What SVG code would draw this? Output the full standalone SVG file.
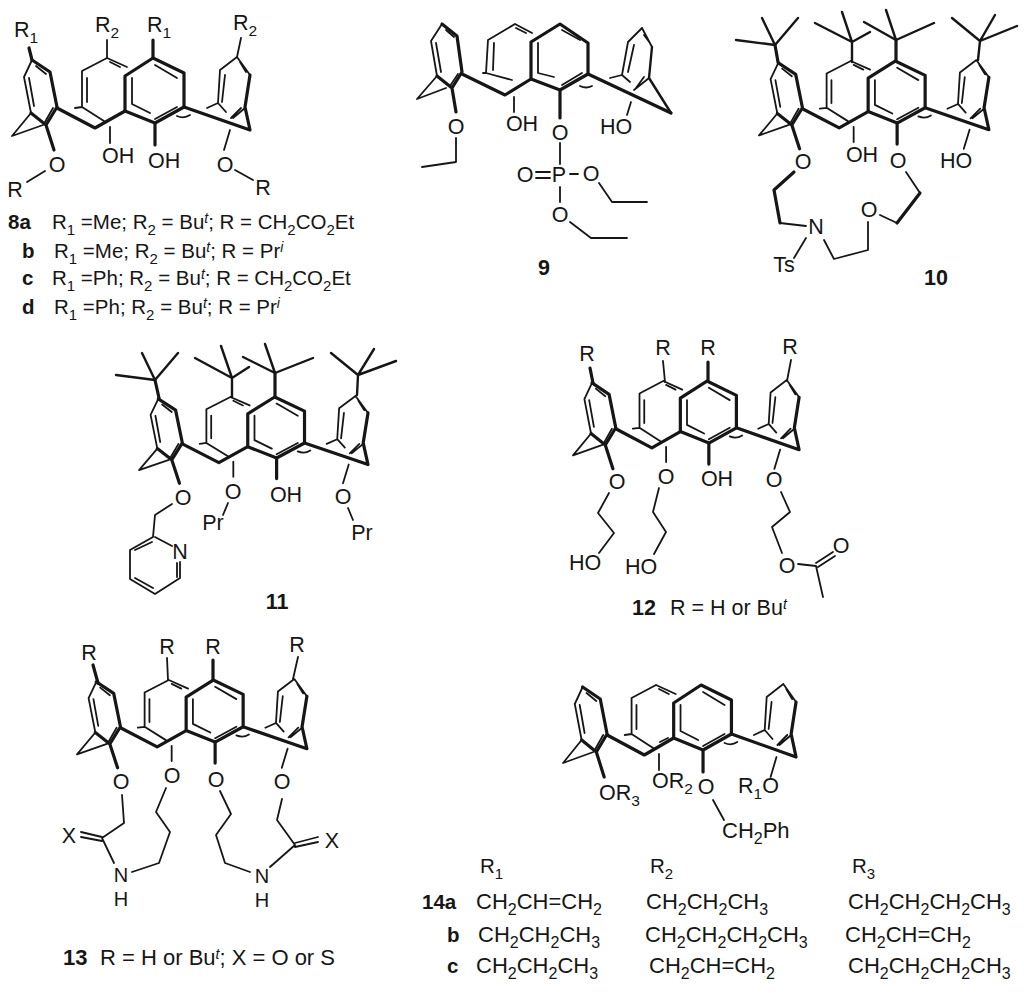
<svg xmlns="http://www.w3.org/2000/svg" width="1024" height="993" viewBox="0 0 1024 993">
<style>
text{font-family:"Liberation Sans",Arial,sans-serif;font-size:21.5px;fill:#161616}
.m{text-anchor:middle}
.bl{font-weight:bold}
.s{font-size:15.5px}
.i{font-style:italic;font-size:14px}
.lab{font-size:20.5px}
.lab .s{font-size:15px}
.tab{font-size:22px}
.tab .s{font-size:16px}
.nh{font-size:20px}
.t,.k,.x{fill:none;stroke:#161616;stroke-linejoin:round;stroke-linecap:round;vector-effect:non-scaling-stroke}
.t{stroke-width:1.8}
.k{stroke-width:3.2}
.x{stroke-width:2.4}
</style>
<defs>
<g id="core">
<path class="t" d="M32 60L24 77L31 113L12 136L43 125M29 78L34 106M36 66L46 74M53 108L45 122"/>
<path class="k" d="M32 60L50 72L57 107L46 125L54 150M31 113L46 125"/>
<path class="k" d="M57 108L95 128L125 111"/>
<path class="t" d="M107 58L82 71L82 107L75 108M82 107L104 121M107 58L127 67M87 78L87 102M110 62L120 67M110 127L110 143"/>
<path class="k" d="M153 58L184 73L184 107L155 123L125 111L125 76Z"/>
<path class="k" d="M155 123L155 145"/>
<path class="t" d="M132 78L132 104L150 113M155 65L177 78M177 107L155 119M177 116Q184 119 190 115"/>
<path class="k" d="M184 107L250 130L245 107L250 75"/>
<path class="t" d="M237 57L250 75M237 57L220 70L218 103L207 108M218 103L226 112M225 75L222 102M240 62L246 72M241 108L231 118M245 108L233 118M230 130L224 150"/>
</g>
</defs>

<g id="compound-8">
<use href="#core"/>
<path class="k" d="M32 60L29 48M153 58L153 40"/>
<path class="t" d="M107 58L107 40M237 57L241 38M45 171L27 182M235 170L253 180"/>
<text x="14" y="37">R<tspan class="s" dy="6">1</tspan></text>
<text x="95" y="32">R<tspan class="s" dy="6">2</tspan></text>
<text x="147" y="32">R<tspan class="s" dy="6">1</tspan></text>
<text x="233" y="30">R<tspan class="s" dy="6">2</tspan></text>
<text x="57" y="172" class="m">O</text>
<text x="15" y="197" class="m">R</text>
<text x="102" y="163">OH</text>
<text x="148" y="168">OH</text>
<text x="225" y="172" class="m">O</text>
<text x="263" y="195" class="m">R</text>
<text x="8" y="229" class="bl lab">8a</text>
<text x="52" y="229" class="lab">R<tspan class="s" dy="6">1</tspan><tspan dy="-6"> =Me; R</tspan><tspan class="s" dy="6">2</tspan><tspan dy="-6"> = Bu</tspan><tspan class="i" dy="-6">t</tspan><tspan dy="6">; R = CH</tspan><tspan class="s" dy="6">2</tspan><tspan dy="-6">CO</tspan><tspan class="s" dy="6">2</tspan><tspan dy="-6">Et</tspan></text>
<text x="22" y="258" class="bl lab">b</text>
<text x="54" y="258" class="lab">R<tspan class="s" dy="6">1</tspan><tspan dy="-6"> =Me; R</tspan><tspan class="s" dy="6">2</tspan><tspan dy="-6"> = Bu</tspan><tspan class="i" dy="-6">t</tspan><tspan dy="6">; R = Pr</tspan><tspan class="i" dy="-6">i</tspan></text>
<text x="22" y="285" class="bl lab">c</text>
<text x="52" y="285" class="lab">R<tspan class="s" dy="6">1</tspan><tspan dy="-6"> =Ph; R</tspan><tspan class="s" dy="6">2</tspan><tspan dy="-6"> = Bu</tspan><tspan class="i" dy="-6">t</tspan><tspan dy="6">; R = CH</tspan><tspan class="s" dy="6">2</tspan><tspan dy="-6">CO</tspan><tspan class="s" dy="6">2</tspan><tspan dy="-6">Et</tspan></text>
<text x="22" y="314" class="bl lab">d</text>
<text x="54" y="314" class="lab">R<tspan class="s" dy="6">1</tspan><tspan dy="-6"> =Ph; R</tspan><tspan class="s" dy="6">2</tspan><tspan dy="-6"> = Bu</tspan><tspan class="i" dy="-6">t</tspan><tspan dy="6">; R = Pr</tspan><tspan class="i" dy="-6">i</tspan></text>
</g>

<g id="compound-9">
<path class="t" d="M442 24L431 41L437 76L417 99L446 88M436 43L441 72M446 30L454 37M458 74L450 86"/>
<path class="k" d="M442 24L457 36L462 72L452 88L456 112M437 76L452 88"/>
<path class="k" d="M462 74L505 95L531 79"/>
<path class="t" d="M515 24L488 40L486 73L483 73M486 73L512 80M515 24L532 33M494 43L493 70M516 28L526 33M514 97L514 112"/>
<path class="k" d="M560 24L588 43L588 74L560 90L531 79L531 42Z"/>
<path class="k" d="M560 90L560 118"/>
<path class="t" d="M538 43L538 73L554 77M562 30L580 40M582 73L562 85M580 86Q586 89 592 86"/>
<path class="k" d="M588 74L671 113"/>
<path class="x" d="M671 113L649 78L652 47"/>
<path class="t" d="M642 28L652 47M642 28L628 42L622 75L610 78M622 75L630 82M634 45L628 72M644 35L650 43M644 77L636 88M649 78L634 90M631 102L627 115"/>
<path class="t" d="M456 138L456 162L422 167M560 143L560 164M536 172L550 172M536 178L550 178M570 174L578 174M599 183L612 202L647 202M560 187L560 202M570 222L591 238L627 238"/>
<text x="456" y="134" class="m">O</text>
<text x="522" y="131" class="m">OH</text>
<text x="560" y="140" class="m">O</text>
<text x="616" y="134" class="m">HO</text>
<text x="525" y="182" class="m">O</text>
<text x="559" y="182" class="m">P</text>
<text x="591" y="181" class="m">O</text>
<text x="560" y="222" class="m">O</text>
<text x="544" y="275" class="m bl">9</text>
</g>

<g id="compound-10">
<use href="#core" transform="translate(747.4 5.7) scale(.966 .954)"/>
<path class="k" d="M775 45L778 62M896 40L896 61"/>
<path class="x" d="M775 45L762 18M775 45L798 18M775 45L736 40M852 42L815 23M852 42L842 12M852 42L870 32M852 42L852 62M896 40L864 22M896 40L886 10M896 40L934 23M980 41L952 18M980 41L995 15M980 41L1017 26M980 41L978 60"/>
<path class="k" d="M794 172L774 190L780 223"/>
<path class="t" d="M780 223L806 226M806 238L794 258M824 240L834 259L868 250L868 222M880 215L897 223"/>
<path class="k" d="M897 223L920 193"/>
<path class="t" d="M920 193L906 172"/>
<text x="803" y="169" class="m">O</text>
<text x="862" y="162" class="m">OH</text>
<text x="898" y="168" class="m">O</text>
<text x="956" y="168" class="m">HO</text>
<text x="816" y="234" class="m">N</text>
<text x="784" y="272" class="m">Ts</text>
<text x="869" y="217" class="m">O</text>
<text x="936" y="285" class="m bl">10</text>
</g>

<g id="compound-11">
<use href="#core" transform="translate(127.5 342.6) scale(.962 .938)"/>
<path class="k" d="M155 380L159 398M275 373L275 397"/>
<path class="x" d="M155 380L142 353M155 380L178 353M155 380L116 375M232 378L195 358M232 378L221 346M232 378L249 367M232 378L232 397M275 373L243 357M275 373L265 344M275 373L313 358M358 375L331 353M358 375L374 349M358 375L396 361M358 375L357 395"/>
<path class="t" d="M172 504L155 515L153 537L130 550L130 579L155 594L180 578L180 562M155 537L172 546M135 550L152 542M177 563L177 577M135 578L153 588M228 503L223 515M348 508L353 520"/>
<text x="183" y="505" class="m">O</text>
<text x="233" y="499" class="m">O</text>
<text x="213" y="530" class="m">Pr</text>
<text x="286" y="502" class="m">OH</text>
<text x="343" y="504" class="m">O</text>
<text x="362" y="540" class="m">Pr</text>
<text x="180" y="559" class="m">N</text>
<text x="277" y="609" class="m bl">11</text>
</g>

<g id="compound-12">
<use href="#core" transform="translate(561.6 325.7) scale(.95 .954)"/>
<path class="k" d="M593 383L590 368M708 381L708 362"/>
<path class="t" d="M665 382L663 361M787 381L791 360M609 493L598 513L614 533L599 553M659 488L653 512L666 532L654 554M781 492L790 512L772 527L782 553M798 564L816 566L823 597M816 563L833 552M818 567L835 556"/>
<text x="587" y="361" class="m">R</text>
<text x="663" y="355" class="m">R</text>
<text x="708" y="355" class="m">R</text>
<text x="790" y="354" class="m">R</text>
<text x="617" y="489" class="m">O</text>
<text x="585" y="570" class="m">HO</text>
<text x="666" y="484" class="m">O</text>
<text x="641" y="574" class="m">HO</text>
<text x="717" y="486" class="m">OH</text>
<text x="774" y="487" class="m">O</text>
<text x="787" y="573" class="m">O</text>
<text x="841" y="553" class="m">O</text>
<text x="632" y="615" class="bl">12</text>
<text x="670" y="615">R = H or Bu<tspan class="i" dy="-6">t</tspan></text>
</g>

<g id="compound-13">
<use href="#core" transform="translate(65.4 624.7) scale(.966 .954)"/>
<path class="k" d="M98 683L93 665M213 680L213 660"/>
<path class="t" d="M168 680L167 658M293 679L298 657M122 795L124 823L102 838L114 863M102 837L81 832M102 841L81 837M132 872L159 863L170 832L156 812L166 788M220 791L231 814L216 835L225 863L250 872M270 867L295 845L277 820L282 799M295 843L318 837M295 847L318 842"/>
<text x="89" y="660" class="m">R</text>
<text x="167" y="654" class="m">R</text>
<text x="213" y="654" class="m">R</text>
<text x="297" y="652" class="m">R</text>
<text x="121" y="789" class="m">O</text>
<text x="172" y="783" class="m">O</text>
<text x="216" y="787" class="m">O</text>
<text x="282" y="789" class="m">O</text>
<text x="69" y="843" class="m">X</text>
<text x="332" y="848" class="m">X</text>
<text x="121" y="882" class="m nh">N</text>
<text x="121" y="906" class="m nh">H</text>
<text x="262" y="883" class="m nh">N</text>
<text x="262" y="907" class="m nh">H</text>
<text x="63" y="965" class="bl tab">13</text>
<text x="100" y="965" class="tab">R = H or Bu<tspan class="i" dy="-6">t</tspan><tspan dy="6">; X = O or S</tspan></text>
</g>

<g id="compound-14">
<use href="#core" transform="translate(551.3 627) scale(.979 1)"/>
<path class="t" d="M713 800L724 820M660 742L668 738"/>
<text x="599" y="800">OR<tspan class="s" dy="6">3</tspan></text>
<text x="652" y="788">OR<tspan class="s" dy="6">2</tspan></text>
<text x="706" y="794" class="m">O</text>
<text x="738" y="793">R<tspan class="s" dy="6">1</tspan><tspan dy="-6">O</tspan></text>
<text x="722" y="838" class="tab">CH<tspan class="s" dy="6">2</tspan><tspan dy="-6">Ph</tspan></text>
<text x="480" y="873" class="lab">R<tspan class="s" dy="6">1</tspan></text>
<text x="650" y="873" class="lab">R<tspan class="s" dy="6">2</tspan></text>
<text x="852" y="873" class="lab">R<tspan class="s" dy="6">3</tspan></text>
<text x="422" y="909" class="bl lab">14a</text>
<text x="476" y="909" class="tab">CH<tspan class="s" dy="6">2</tspan><tspan dy="-6">CH=CH</tspan><tspan class="s" dy="6">2</tspan></text>
<text x="646" y="909" class="tab">CH<tspan class="s" dy="6">2</tspan><tspan dy="-6">CH</tspan><tspan class="s" dy="6">2</tspan><tspan dy="-6">CH</tspan><tspan class="s" dy="6">3</tspan></text>
<text x="848" y="909" class="tab">CH<tspan class="s" dy="6">2</tspan><tspan dy="-6">CH</tspan><tspan class="s" dy="6">2</tspan><tspan dy="-6">CH</tspan><tspan class="s" dy="6">2</tspan><tspan dy="-6">CH</tspan><tspan class="s" dy="6">3</tspan></text>
<text x="447" y="942" class="bl lab">b</text>
<text x="478" y="942" class="tab">CH<tspan class="s" dy="6">2</tspan><tspan dy="-6">CH</tspan><tspan class="s" dy="6">2</tspan><tspan dy="-6">CH</tspan><tspan class="s" dy="6">3</tspan></text>
<text x="645" y="942" class="tab">CH<tspan class="s" dy="6">2</tspan><tspan dy="-6">CH</tspan><tspan class="s" dy="6">2</tspan><tspan dy="-6">CH</tspan><tspan class="s" dy="6">2</tspan><tspan dy="-6">CH</tspan><tspan class="s" dy="6">3</tspan></text>
<text x="845" y="942" class="tab">CH<tspan class="s" dy="6">2</tspan><tspan dy="-6">CH=CH</tspan><tspan class="s" dy="6">2</tspan></text>
<text x="447" y="973" class="bl lab">c</text>
<text x="476" y="973" class="tab">CH<tspan class="s" dy="6">2</tspan><tspan dy="-6">CH</tspan><tspan class="s" dy="6">2</tspan><tspan dy="-6">CH</tspan><tspan class="s" dy="6">3</tspan></text>
<text x="649" y="973" class="tab">CH<tspan class="s" dy="6">2</tspan><tspan dy="-6">CH=CH</tspan><tspan class="s" dy="6">2</tspan></text>
<text x="848" y="973" class="tab">CH<tspan class="s" dy="6">2</tspan><tspan dy="-6">CH</tspan><tspan class="s" dy="6">2</tspan><tspan dy="-6">CH</tspan><tspan class="s" dy="6">2</tspan><tspan dy="-6">CH</tspan><tspan class="s" dy="6">3</tspan></text>
</g>
</svg>
